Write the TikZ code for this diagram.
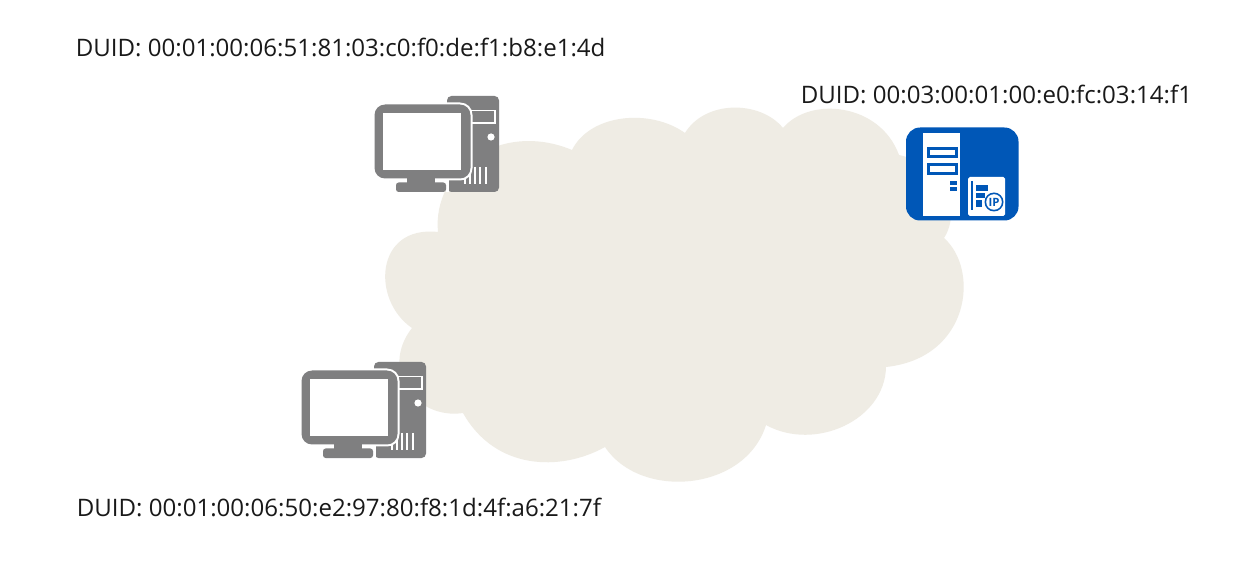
\documentclass[tikz,border=0pt]{standalone}
\usepackage{fontspec}
\setmainfont{Open Sans}
\definecolor{cloudc}{HTML}{EFECE4}
\definecolor{pcgray}{HTML}{7F7F80}
\definecolor{srvblue}{HTML}{0057B7}
\tikzset{
  duid/.style={anchor=base west,inner sep=0pt,font=\fontsize{13.7pt}{16pt}\selectfont,text=black!90},
  pcfill/.style={fill=pcgray,draw=none},
  wfill/.style={fill=white,draw=none},
  bfill/.style={fill=srvblue,draw=none},
  pcicon/.pic={
    \fill[pcfill,rounded corners=2.5] (447,96) rectangle (499,192);
    \fill[wfill] (470,110) rectangle (495.5,124);
    \fill[pcfill] (471.5,111.5) rectangle (494,122.5);
    \fill[wfill] (491,137) circle (3.6);
    \foreach \vx/\vt in {465/177,470/174,475/167,480/167,486/167}
      \draw[white,line width=0.6pt] (\vx,\vt) -- (\vx,184.5);
    \fill[wfill,rounded corners=7] (372.5,102.5) rectangle (472.5,180.5);
    \fill[pcfill,rounded corners=6] (374.5,104.5) rectangle (470.5,178.5);
    \fill[wfill] (383,113) rectangle (461,170);
    \fill[pcfill] (407,178) rectangle (435,183);
    \fill[wfill] (446,180) rectangle (449,192);
    \fill[pcfill,rounded corners=1.5] (396,182.5) rectangle (446,192);
  }
}
\begin{document}
\begin{tikzpicture}[x=0.02cm,y=-0.02cm]
\useasboundingbox (0,0) rectangle (1251,587);
\fill[white] (0,0) rectangle (1251,587);
% cloud
\fill[cloudc] (438,232)
  .. controls (432,170) and (500,120) .. (572,150)
  .. controls (590,114) and (650,108) .. (685,133)
  .. controls (705,100) and (760,100) .. (783,128)
  .. controls (810,96) and (880,103) .. (899,155)
  .. controls (945,165) and (962,210) .. (944,238)
  .. controls (980,270) and (970,358) .. (886,367)
  .. controls (885,420) and (815,452) .. (766,425)
  .. controls (745,492) and (640,500) .. (605,447)
  .. controls (560,472) and (495,470) .. (463,413)
  .. controls (416,420) and (379,370) .. (412,328)
  .. controls (371,300) and (375,225) .. (438,232)
  -- cycle;
% computers
\pic at (0,0) {pcicon};
\pic at (-73,266) {pcicon};
% server
\fill[bfill,rounded corners=8] (906,127.5) rectangle (1018.5,220.5);
\fill[wfill] (923,133.5) rectangle (960,216);
\fill[bfill] (927,147) rectangle (957.5,158.5);
\fill[wfill] (930,150) rectangle (954.5,155);
\fill[bfill] (927,163) rectangle (957.5,175);
\fill[wfill] (930,166) rectangle (954.5,172);
\fill[bfill] (950,181) rectangle (957,185);
\fill[bfill] (950,187) rectangle (957,191);
\fill[wfill,rounded corners=1] (968,177) rectangle (1005,216);
\fill[bfill] (971,181) rectangle (973,210);
\fill[bfill] (976,185) rectangle (988,191);
\fill[bfill] (976,193) rectangle (985,198);
\fill[bfill] (976,200) rectangle (982,207);
\fill[bfill] (994,202) circle (9.5);
\fill[wfill] (994,202) circle (7.8);
\node[inner sep=0pt,text=srvblue,font=\fontsize{6.5pt}{7pt}\selectfont\bfseries] (iptext) at (994,202) {IP};
% labels
\node[duid] (duida) at (75.5,57) {DUID: 00:01:00:06:51:81:03:c0:f0:de:f1:b8:e1:4d};
\node[duid] (duidb) at (800.5,104) {DUID: 00:03:00:01:00:e0:fc:03:14:f1};
\node[duid] (duidc) at (76.5,516) {DUID: 00:01:00:06:50:e2:97:80:f8:1d:4f:a6:21:7f};
\end{tikzpicture}
\end{document}
